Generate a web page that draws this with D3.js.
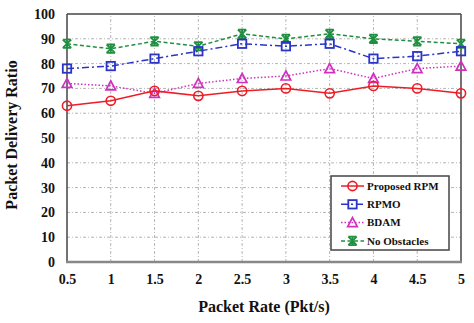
<!DOCTYPE html>
<html>
<head>
<meta charset="utf-8">
<script src="https://cdn.jsdelivr.net/npm/d3@7"></script>
<style>
	body { margin: 0; background: #fff; }
	text { font-family: 'Liberation Serif', 'Times New Roman', serif; font-weight: bold; fill: #111; }
</style>
</head>
<body>
<div id="chart"></div>
<script>
/*globals d3*/
'use strict';

const packetRates = [0.5, 1, 1.5, 2, 2.5, 3, 3.5, 4, 4.5, 5];
const proposedRpm = [63, 65, 69, 67, 69, 70, 68, 71, 70, 68];
const rpmo = [78, 79, 82, 85, 88, 87, 88, 82, 83, 85];
const bdam = [72, 71, 68, 72, 74, 75, 78, 74, 78, 79];
const noObstacles = [88, 86, 89, 87, 92, 90, 92, 90, 89, 88];
const yTicks = [0, 10, 20, 30, 40, 50, 60, 70, 80, 90, 100];
const xTickLabels = ['0.5', '1', '1.5', '2', '2.5', '3', '3.5', '4', '4.5', '5'];

const width = 474, height = 323;
const margin = { top: 14, right: 13, bottom: 61, left: 67 };

const series = [
	{ name: 'Proposed RPM', values: proposedRpm, color: '#ee1c24', dash: null, marker: 'circle' },
	{ name: 'RPMO', values: rpmo, color: '#2a35c8', dash: '7,3,2,3', marker: 'square' },
	{ name: 'BDAM', values: bdam, color: '#d030c0', dash: '1.5,2', marker: 'triangle' },
	{ name: 'No Obstacles', values: noObstacles, color: '#1f9040', dash: '4,2.5', marker: 'star' }
];

const svg = d3.select('#chart').append('svg')
	.attr('width', width)
	.attr('height', height);

const x = d3.scaleLinear().domain([0.5, 5]).range([margin.left, width - margin.right]);
const y = d3.scaleLinear().domain([0, 100]).range([height - margin.bottom, margin.top]);

// grid lines
svg.append('g')
	.selectAll('line.hgrid')
	.data(yTicks.slice(1, -1))
	.join('line')
	.attr('x1', x(0.5)).attr('x2', x(5))
	.attr('y1', d => y(d)).attr('y2', d => y(d))
	.style('stroke', '#b4b4b4').style('stroke-width', 1)
	.style('stroke-dasharray', '3,2,1,2');

svg.append('g')
	.selectAll('line.vgrid')
	.data(packetRates.slice(1, -1))
	.join('line')
	.attr('x1', d => x(d)).attr('x2', d => x(d))
	.attr('y1', y(0)).attr('y2', y(100))
	.style('stroke', '#b4b4b4').style('stroke-width', 1)
	.style('stroke-dasharray', '3,2,1,2');

// frame
svg.append('line').attr('x1', x(0.5)).attr('x2', x(5)).attr('y1', y(100)).attr('y2', y(100))
	.style('stroke', '#444').style('stroke-width', 1.5);
svg.append('line').attr('x1', x(5)).attr('x2', x(5)).attr('y1', y(100)).attr('y2', y(0))
	.style('stroke', '#444').style('stroke-width', 1.5);
svg.append('line').attr('x1', x(0.5)).attr('x2', x(0.5)).attr('y1', y(100)).attr('y2', y(0))
	.style('stroke', '#444').style('stroke-width', 1.5);
svg.append('line').attr('x1', x(0.5) - 1).attr('x2', x(5) + 1).attr('y1', y(0)).attr('y2', y(0))
	.style('stroke', '#888').style('stroke-width', 2.5);

// axes (labels only)
const yAxis = svg.append('g')
	.attr('transform', 'translate(' + x(0.5) + ',0)')
	.call(d3.axisLeft(y).tickValues(yTicks).tickSize(0).tickPadding(12));
yAxis.select('.domain').remove();
yAxis.selectAll('text').style('font-size', '14px').attr('fill', '#111');

const xAxis = svg.append('g')
	.attr('transform', 'translate(0,' + y(0) + ')')
	.call(d3.axisBottom(x).tickValues(packetRates).tickFormat((d, i) => xTickLabels[i]).tickSize(0).tickPadding(12));
xAxis.select('.domain').remove();
xAxis.selectAll('text').style('font-size', '14px').attr('fill', '#111');

// axis titles
svg.append('text')
	.text('Packet Rate (Pkt/s)')
	.attr('x', (x(0.5) + x(5)) / 2).attr('y', 312)
	.style('text-anchor', 'middle').style('font-size', '16px');

svg.append('text')
	.text('Packet Delivery Ratio')
	.attr('transform', 'translate(11,135) rotate(-90)')
	.attr('dy', '0.35em')
	.style('text-anchor', 'middle').style('font-size', '16px');

function drawMarker(g, type, cx, cy, color) {
	if (type === 'circle') {
		g.append('circle').attr('cx', cx).attr('cy', cy).attr('r', 4.6)
			.style('fill', 'none').style('stroke', color).style('stroke-width', 1.6);
	} else if (type === 'square') {
		g.append('rect').attr('x', cx - 4.2).attr('y', cy - 4.2).attr('width', 8.4).attr('height', 8.4)
			.style('fill', 'none').style('stroke', color).style('stroke-width', 1.8);
	} else if (type === 'triangle') {
		g.append('path').attr('d', 'M' + cx + ',' + (cy - 5) + 'L' + (cx + 4.8) + ',' + (cy + 4) + 'L' + (cx - 4.8) + ',' + (cy + 4) + 'Z')
			.style('fill', 'none').style('stroke', color).style('stroke-width', 1.7);
	} else {
		const s = 4.2;
		g.append('path')
			.attr('d', 'M' + (cx - s) + ',' + (cy - s) + 'L' + (cx + s) + ',' + (cy + s) +
				'M' + (cx + s) + ',' + (cy - s) + 'L' + (cx - s) + ',' + (cy + s) +
				'M' + cx + ',' + (cy - s - 0.5) + 'L' + cx + ',' + (cy + s + 0.5) +
				'M' + (cx - s) + ',' + (cy - s) + 'L' + (cx + s) + ',' + (cy - s) +
				'M' + (cx - s) + ',' + (cy + s) + 'L' + (cx + s) + ',' + (cy + s))
			.style('fill', 'none').style('stroke', color).style('stroke-width', 1.8);
	}
}

const line = d3.line().x((d, i) => x(packetRates[i])).y(d => y(d));

// draw order: back to front
[3, 2, 1, 0].forEach(function (k) {
	const s = series[k];
	const g = svg.append('g');
	g.append('path')
		.datum(s.values)
		.attr('d', line)
		.style('fill', 'none')
		.style('stroke', s.color)
		.style('stroke-width', 1.5)
		.style('stroke-dasharray', s.dash);
	s.values.forEach(function (v, i) {
		drawMarker(g, s.marker, x(packetRates[i]), y(v), s.color);
	});
});

// legend
const legend = svg.append('g');
legend.append('rect')
	.attr('x', 331).attr('y', 176).attr('width', 118).attr('height', 74)
	.style('fill', '#fff').style('stroke', '#444').style('stroke-width', 1.5);

series.forEach(function (s, i) {
	const ly = 186 + i * 18.3;
	legend.append('line')
		.attr('x1', 341).attr('x2', 364).attr('y1', ly).attr('y2', ly)
		.style('stroke', s.color).style('stroke-width', 1.5)
		.style('stroke-dasharray', s.dash);
	drawMarker(legend, s.marker, 352.5, ly, s.color);
	legend.append('text')
		.text(s.name)
		.attr('x', 367).attr('y', ly).attr('dy', '0.35em')
		.style('font-size', '11px');
});
</script>
</body>
</html>
